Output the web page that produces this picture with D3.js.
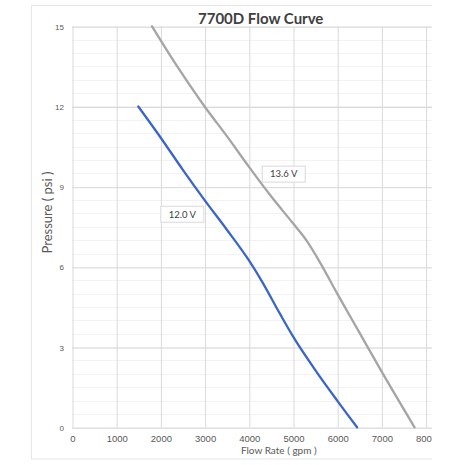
<!DOCTYPE html>
<html>
<head>
<meta charset="utf-8">
<script src="https://cdn.jsdelivr.net/npm/d3@7"></script>
<style>
  html, body { margin: 0; padding: 0; background: #fff; }
  svg { display: block; font-family: Lato, "Open Sans", sans-serif; }
</style>
</head>
<body>
<div id="chart"></div>
<script>
// chart values
var flowTicks = [0, 1000, 2000, 3000, 4000, 5000, 6000, 7000, 8000];
var pressureTicks = [0, 3, 6, 9, 12, 15];
var minorPressureTicks = d3.range(0, 15.01, 0.5);

var flow12 = [1500, 2000, 2500, 3000, 3500, 4000, 4300, 4700, 5000, 5500, 6000, 6450];
var pressure12 = [12, 10.85, 9.65, 8.5, 7.4, 6.25, 5.45, 4.26, 3.4, 2.15, 1.0, 0];

var flow136 = [1810, 2400, 3000, 3500, 4000, 4500, 5000, 5300, 5600, 6000, 6500, 7000, 7750];
var pressure136 = [15, 13.45, 12, 10.9, 9.75, 8.65, 7.63, 7.0, 6.2, 5.0, 3.55, 2.1, 0];

var seriesNames = ['12.0 V', '13.6 V'];
// where each series label box sits (data units)
var labelFlow = [2496, 4790];
var labelPressure = [7.97, 9.47];

var width = 432, height = 465;
var svg = d3.select('#chart').append('svg')
    .attr('width', width)
    .attr('height', height);

// chart frame, runs past the cropped right edge
svg.append('rect')
    .attr('x', 31.5).attr('y', 5.5)
    .attr('width', 480).attr('height', 453.5)
    .attr('fill', '#fff')
    .attr('stroke', '#e6e6e6');

var x = d3.scaleLinear().domain([0, 9000]).range([72, 72 + 9 * 44.2]);
var y = d3.scaleLinear().domain([0, 15]).range([427.3, 26.3]);

// minor horizontal grid
svg.append('g').selectAll('line')
    .data(minorPressureTicks)
    .enter().append('line')
    .attr('x1', x(0)).attr('x2', x(9000))
    .attr('y1', function (d) { return Math.round(y(d)) + 0.5; })
    .attr('y2', function (d) { return Math.round(y(d)) + 0.5; })
    .attr('stroke', '#f2f2f2');

// major grid
var yAxis = d3.axisLeft(y).tickValues(pressureTicks)
    .tickSize(-(x(9000) - x(0))).tickPadding(8);
var gy = svg.append('g')
    .attr('transform', 'translate(' + x(0) + ',0.5)')
    .call(yAxis);
gy.select('.domain').remove();
gy.selectAll('line').attr('stroke', '#d9d9d9');
gy.selectAll('text')
    .attr('fill', '#595959')
    .style('font-size', '8px');

var xAxis = d3.axisBottom(x).tickValues(flowTicks)
    .tickFormat(d3.format('d'))
    .tickSize(-(y(0) - y(15))).tickPadding(8);
var gx = svg.append('g')
    .attr('transform', 'translate(0.5,' + y(0) + ')')
    .call(xAxis);
gx.select('.domain').remove();
gx.selectAll('line').attr('stroke', '#d9d9d9');
gx.selectAll('text')
    .attr('fill', '#595959')
    .style('font-size', '9.5px');

// curves
var line = d3.line()
    .x(function (d) { return x(d[0]); })
    .y(function (d) { return y(d[1]); })
    .curve(d3.curveMonotoneX);

var series = [
    { name: seriesNames[0], pts: d3.zip(flow12, pressure12), color: '#3a66c8' },
    { name: seriesNames[1], pts: d3.zip(flow136, pressure136), color: '#a5a5a5' }
];

svg.append('g').selectAll('path')
    .data(series)
    .enter().append('path')
    .attr('d', function (d) { return line(d.pts); })
    .attr('fill', 'none')
    .attr('stroke', function (d) { return d.color; })
    .attr('stroke-width', 2.3)
    .attr('stroke-linecap', 'round');

// series labels in little boxes
var lab = svg.append('g').selectAll('g')
    .data(seriesNames)
    .enter().append('g')
    .attr('transform', function (d, i) {
        return 'translate(' + x(labelFlow[i]) + ',' + y(labelPressure[i]) + ')';
    });
lab.append('rect')
    .attr('x', -21.5).attr('y', -8)
    .attr('width', 43).attr('height', 16)
    .attr('fill', '#fff')
    .attr('stroke', '#d9d9d9');
lab.append('text')
    .attr('text-anchor', 'middle')
    .attr('dy', '0.35em')
    .attr('fill', '#404040')
    .style('font-size', '9.5px')
    .text(function (d) { return d; });

// titles
svg.append('text')
    .attr('x', 260.7).attr('y', 24)
    .attr('text-anchor', 'middle')
    .attr('fill', '#404040')
    .style('font-size', '15px')
    .style('font-weight', 'bold')
    .text('7700D Flow Curve');

svg.append('text')
    .attr('transform', 'translate(52,212.5) rotate(-90)')
    .attr('text-anchor', 'middle')
    .attr('fill', '#595959')
    .style('font-size', '13px')
    .text('Pressure ( psi )');

svg.append('text')
    .attr('x', 278.8).attr('y', 454)
    .attr('text-anchor', 'middle')
    .attr('fill', '#595959')
    .style('font-size', '10px')
    .text('Flow Rate ( gpm )');
</script>
</body>
</html>
